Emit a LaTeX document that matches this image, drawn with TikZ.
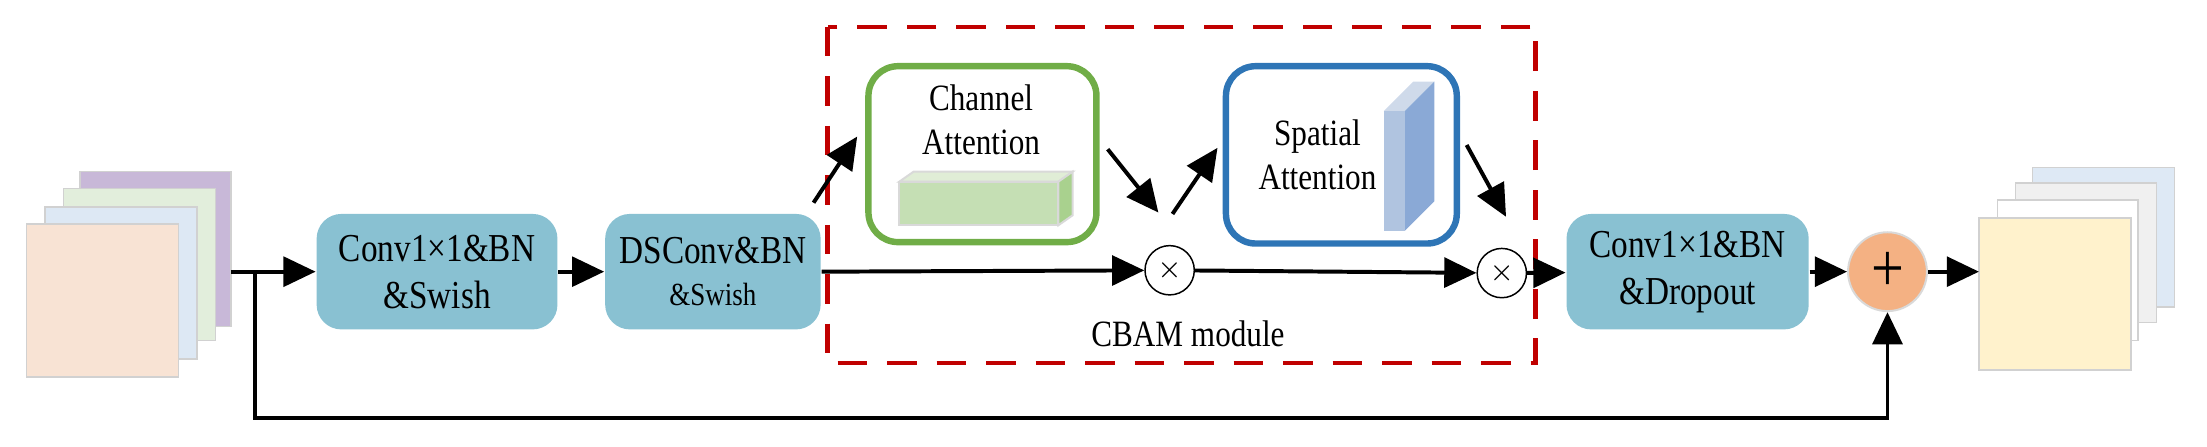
\documentclass[tikz,border=0pt]{standalone}
\usepackage{fontspec}
\setmainfont{Liberation Serif}[FakeStretch=0.84]
\usetikzlibrary{arrows.meta}
\definecolor{boxblue}{HTML}{89C1D2}
\definecolor{cbred}{HTML}{C00000}
\definecolor{cagreen}{HTML}{70AD47}
\definecolor{sablue}{HTML}{2E75B6}
\definecolor{plusor}{HTML}{F4B183}
\begin{document}
\begin{tikzpicture}[x=0.01cm,y=-0.01cm,
  conn/.style={line width=0.8pt,-{Triangle[length=6.5pt,width=6pt]}},
  blk/.style={fill=boxblue,rounded corners=5pt,align=center,inner sep=1pt,font=\fontsize{8}{9.5}\selectfont},
  layer/.style={draw=black!18,line width=0.3pt},
  mul/.style={draw,line width=0.3pt,circle,minimum size=0.35cm,inner sep=0pt,font=\fontsize{5}{5}\selectfont}]
\useasboundingbox (0,0) rectangle (1568,317);
% input stack
\filldraw[layer,fill={rgb,255:red,200;green,184;blue,216}] (57,122) rectangle (164,232);
\filldraw[layer,fill={rgb,255:red,226;green,238;blue,220}] (45,134) rectangle (153,242);
\filldraw[layer,fill={rgb,255:red,221;green,232;blue,244}] (32,147) rectangle (140,255);
\filldraw[layer,fill={rgb,255:red,248;green,227;blue,212}] (19,159) rectangle (127,268);
\coordinate (in) at (164,193);
% output stack
\filldraw[layer,fill={rgb,255:red,222;green,233;blue,245}] (1444,119) rectangle (1545,218);
\filldraw[layer,fill={rgb,255:red,240;green,240;blue,240}] (1432,130) rectangle (1532,229);
\filldraw[layer,fill=white] (1419,142) rectangle (1519,242);
\filldraw[layer,fill={rgb,255:red,255;green,242;blue,204}] (1406,155) rectangle (1514,263);
\coordinate (out) at (1406,193);
% blocks
\node[blk,minimum width=1.71cm,minimum height=0.82cm] (b1) at (310.5,193) {Conv1×1\&BN\\\&Swish};
\node[blk,minimum width=1.53cm,minimum height=0.82cm] (b2) at (506.5,193) {{\fontsize{8}{9}\selectfont DSConv\&BN}\\[-1pt]{\fontsize{6.5}{8}\selectfont\&Swish}};
\node[blk,minimum width=1.72cm,minimum height=0.82cm] (b3) at (1199,193) {Conv1×1\&BN\\\&Dropout};
\node[circle,fill=plusor,draw=black!15,minimum size=0.56cm,inner sep=0pt,font=\fontsize{14}{14}\selectfont] (plus) at (1341,193) {+};
% CBAM
\draw[cbred,line width=0.9pt,dash pattern=on 6pt off 4pt] (588,19) rectangle (1091,258);
\node[font=\fontsize{7.5}{8}\selectfont] (cbam) at (844,237) {CBAM module};
\draw[cagreen,line width=1.3pt,rounded corners=6pt] (617,47) rectangle (779,172);
\node[font=\fontsize{7.5}{8.8}\selectfont,align=center] (ca) at (697,85) {Channel\\Attention};
\draw[sablue,line width=1.3pt,rounded corners=6pt] (871,47) rectangle (1035,173);
\node[font=\fontsize{7.5}{8.8}\selectfont,align=center] (sa) at (936,110) {Spatial\\Attention};
% green cuboid
\filldraw[draw=black!15,fill={rgb,255:red,224;green,237;blue,214}] (639,129) -- (649,122) -- (762,122) -- (752,129) -- cycle;
\filldraw[draw=black!15,fill={rgb,255:red,169;green,209;blue,142}] (752,129) -- (762,122) -- (762,153) -- (752,160) -- cycle;
\filldraw[draw=black!15,fill={rgb,255:red,197;green,223;blue,180}] (639,129) rectangle (752,160);
% blue slab
\fill[fill={rgb,255:red,207;green,218;blue,234}] (983,79) -- (1004,58) -- (1019,58) -- (998,79) -- cycle;
\fill[fill={rgb,255:red,138;green,169;blue,214}] (998,79) -- (1019,58) -- (1019,143) -- (998,164) -- cycle;
\fill[fill={rgb,255:red,176;green,196;blue,224}] (983,79) rectangle (998,164);
% multipliers
\node[mul] (m1) at (831,192) {$\times$};
\node[mul] (m2) at (1067,194) {$\times$};
% arrows
\coordinate (a1s) at (578,144); \coordinate (a1e) at (609,97);
\coordinate (a2s) at (787,106); \coordinate (a2e) at (823,151);
\coordinate (a3s) at (833,152); \coordinate (a3e) at (865,105);
\coordinate (a4s) at (1042,103); \coordinate (a4e) at (1070,154);
\draw[conn] (a1s) -- (a1e);
\draw[conn] (a2s) -- (a2e);
\draw[conn] (a3s) -- (a3e);
\draw[conn] (a4s) -- (a4e);
\draw[conn] (in) -- (b1);
\draw[conn] (b1) -- (b2);
\draw[conn] (b2.east) -- (m1);
\draw[conn] (m1) -- (m2);
\draw[conn] (m2) -- (b3);
\draw[conn] (b3) -- (plus);
\draw[conn] (plus) -- (out);
\coordinate (br) at (181,193);
\draw[conn] (br) -- (181,297) -| (plus.south);
\end{tikzpicture}
\end{document}
